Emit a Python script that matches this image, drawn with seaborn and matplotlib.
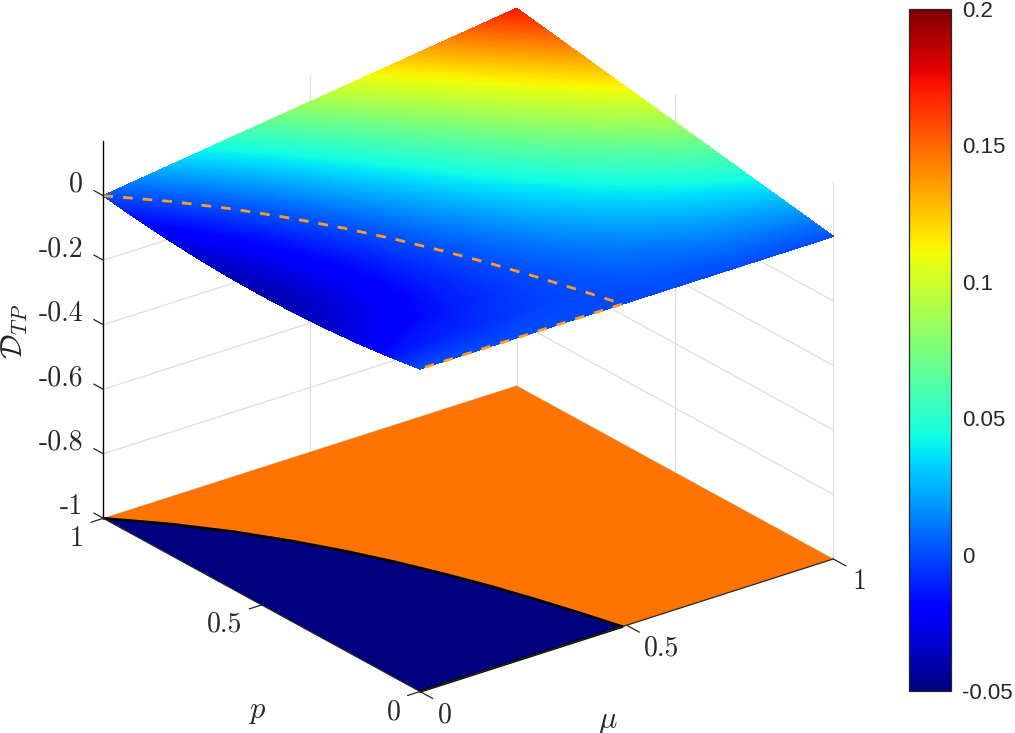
"""Sign of D_TP over (mu, p): surface plus floor map, MATLAB-style oblique view."""

import matplotlib
import matplotlib.pyplot as plt
import numpy as np
import seaborn as sns
from matplotlib.cm import ScalarMappable
from matplotlib.colors import Normalize

sns.set_theme(style="white")

# values
mu_grid = [0.0, 0.2, 0.4, 0.6, 0.8, 1.0]
p_grid = [0.0, 0.1, 0.2, 0.3, 0.4, 0.5, 0.6, 0.7, 0.8, 0.9, 1.0]
d_tp = [
    [0.0000, 0.0000, 0.0000, 0.0000, 0.0000, 0.0000],
    [-0.0147, -0.0083, -0.0020, 0.0043, 0.0107, 0.0170],
    [-0.0261, -0.0141, -0.0021, 0.0100, 0.0220, 0.0340],
    [-0.0342, -0.0172, -0.0001, 0.0169, 0.0340, 0.0510],
    [-0.0391, -0.0177, 0.0037, 0.0252, 0.0466, 0.0680],
    [-0.0408, -0.0156, 0.0095, 0.0347, 0.0598, 0.0850],
    [-0.0391, -0.0109, 0.0173, 0.0456, 0.0738, 0.1020],
    [-0.0342, -0.0036, 0.0271, 0.0577, 0.0884, 0.1190],
    [-0.0261, 0.0063, 0.0387, 0.0712, 0.1036, 0.1360],
    [-0.0147, 0.0188, 0.0524, 0.0859, 0.1195, 0.1530],
    [0.0000, 0.0340, 0.0680, 0.1020, 0.1360, 0.1700],
]

# zero contour of D_TP
zero_p = [1.0, 0.9, 0.8, 0.7, 0.6, 0.5, 0.4, 0.3, 0.2, 0.1, 0.0]
zero_mu = [0.0, 0.0875, 0.161, 0.223, 0.277, 0.324, 0.365, 0.402, 0.434, 0.463, 0.49]

mu_ticks = [0, 0.5, 1]
p_ticks = [0, 0.5, 1]
z_ticks = [-1, -0.8, -0.6, -0.4, -0.2, 0]
z_tick_labels = ["-1", "-0.8", "-0.6", "-0.4", "-0.2", "0"]
cbar_ticks = [-0.05, 0, 0.05, 0.1, 0.15, 0.2]
cbar_labels = ["-0.05", "0", "0.05", "0.1", "0.15", "0.2"]

Z_MIN, Z_TOP = -1, 0.17
ORANGE = "#ff7300"
NAVY = "#000080"
DASH_ORANGE = "#ff9d22"
GRID = "#dedede"
INK = "#262626"
TICK_FONT = "cmr10"

plt.rcParams["mathtext.fontset"] = "cm"
plt.rcParams["axes.formatter.use_mathtext"] = True


def project(mu, p, z):
    # orthographic view of the data box, result in figure pixels
    mu, p, z = np.asarray(mu, float), np.asarray(p, float), np.asarray(z, float)
    x = 420.0 + 413.3 * mu - 316.7 * p
    y = 691.5 - 132.5 * mu - 173.2 * p - 322.6 * (z + 1)
    return x, y


fig = plt.figure(figsize=(10.15, 7.33), dpi=100)
ax = fig.add_axes([0, 0, 1, 1])
ax.set_xlim(0, 1015)
ax.set_ylim(733, 0)
ax.axis("off")

# back walls
for z in z_ticks:
    x, y = project([0, 1, 1], [1, 1, 0], [z, z, z])
    ax.plot(x, y, color=GRID, lw=0.9, zorder=1)
for mu, p in [(0.5, 1), (1, 1), (1, 0.5), (1, 0)]:
    x, y = project([mu, mu], [p, p], [Z_MIN, Z_TOP])
    ax.plot(x, y, color=GRID, lw=0.9, zorder=1)

# floor map
x, y = project([0] + zero_mu + [1, 1], [1] + zero_p + [0, 1], [-1] * 14)
ax.fill(x, y, color=ORANGE, lw=0, zorder=2)
x, y = project(zero_mu + [0], zero_p + [0], [-1] * 12)
ax.fill(x, y, color=NAVY, lw=0, zorder=2)
sns.lineplot(x=x, y=y, sort=False, estimator=None, color="black", lw=1.9, ax=ax, zorder=4)

# surface, coloured by height
jet = matplotlib.colormaps["jet"]
norm = Normalize(-0.05, 0.2)
mu_mesh, p_mesh = np.meshgrid(mu_grid, p_grid)
z_mesh = np.array(d_tp)
sx, sy = project(mu_mesh, p_mesh, z_mesh)
surf = ax.contourf(sx, sy, z_mesh, levels=np.linspace(-0.05, 0.2, 256), cmap=jet, norm=norm, zorder=3)
surf.set_edgecolor("face")
surf.set_linewidth(0.25)

# zero contour on the surface
x, y = project(zero_mu + [0], zero_p + [0], [0] * 12)
sns.lineplot(x=x, y=y, sort=False, estimator=None, color=DASH_ORANGE, lw=2.0,
             linestyle=(0, (3.5, 3.6)), ax=ax, zorder=5)

# axis lines
x, y = project([0, 0], [1, 1], [Z_MIN, Z_TOP])
ax.plot(x, y, color="black", lw=1.0, zorder=6)
x, y = project([0, 0], [0, 1], [-1, -1])
ax.plot(x, y, color=INK, lw=0.9, zorder=6)
x, y = project([0, 1], [0, 0], [-1, -1])
ax.plot(x, y, color=INK, lw=0.9, zorder=6)

# ticks
for z, lab in zip(z_ticks, z_tick_labels):
    x, y = project([0, 0], [1, 1.03], [z, z])
    ax.plot(x, y, color=INK, lw=0.9, zorder=6)
    ax.text(83, y[0] - 11, lab, ha="right", va="center", fontsize=20, color=INK, family=TICK_FONT)
for p, lab_xy in zip(p_ticks, [(394, 712), (225, 624), (77, 539)]):
    x, y = project([0, -0.03], [p, p], [-1, -1])
    ax.plot(x, y, color=INK, lw=0.9, zorder=6)
    ax.text(*lab_xy, f"{p:g}", ha="center", va="center", fontsize=20, color=INK, family=TICK_FONT)
for mu, lab_xy in zip(mu_ticks, [(445, 715), (662, 648), (860, 582)]):
    x, y = project([mu, mu], [0, -0.04], [-1, -1])
    ax.plot(x, y, color=INK, lw=0.9, zorder=6)
    ax.text(*lab_xy, f"{mu:g}", ha="center", va="center", fontsize=20, color=INK, family=TICK_FONT)

ax.text(257, 712, r"$p$", ha="center", va="center", fontsize=22, color=INK)
ax.text(608, 722, r"$\mu$", ha="center", va="center", fontsize=22, color=INK)
ax.text(15, 331, r"$\mathcal{D}_{TP}$", rotation=90, ha="center", va="center", fontsize=22, color=INK)

# colour bar
cax = fig.add_axes([909 / 1015, 1 - 691 / 733, 42 / 1015, 682 / 733])
cbar = fig.colorbar(ScalarMappable(norm=norm, cmap=jet), cax=cax)
cbar.set_ticks(cbar_ticks, labels=cbar_labels)
cbar.ax.tick_params(length=0, pad=8, labelsize=16, labelcolor=INK, labelfontfamily="Liberation Sans")
cbar.outline.set_edgecolor(INK)
cbar.outline.set_linewidth(0.9)

fig.savefig("out.png", dpi=100)
